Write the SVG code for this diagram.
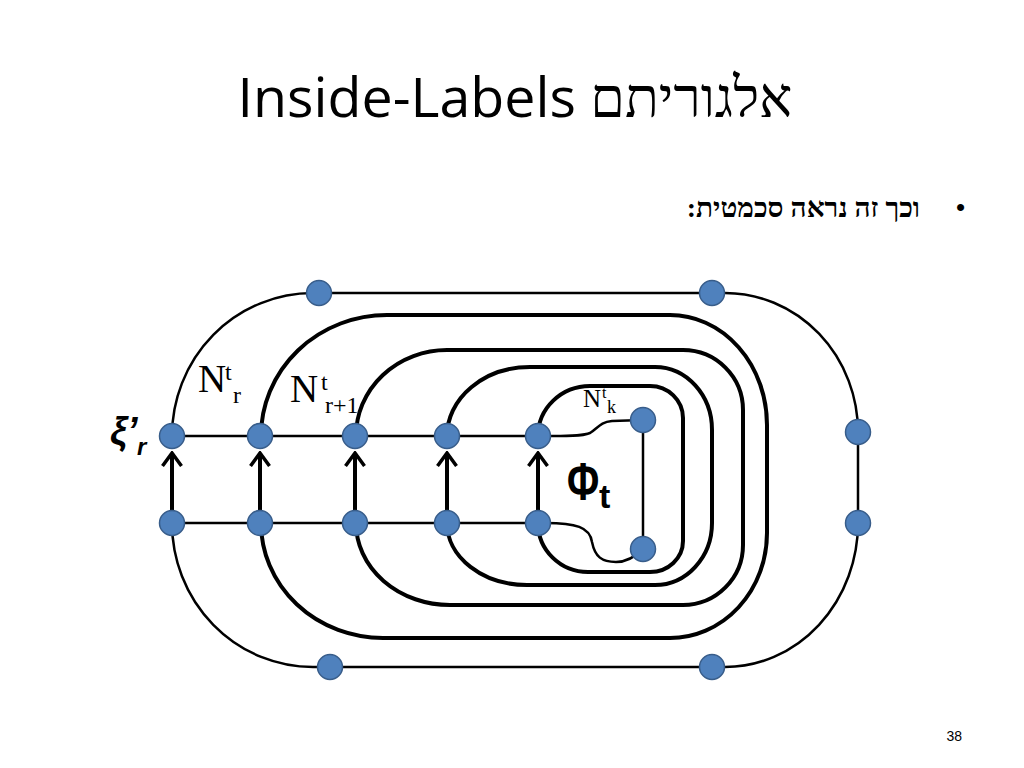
<svg xmlns="http://www.w3.org/2000/svg" width="1024" height="768" viewBox="0 0 1024 768">
<style>
.thin{fill:none;stroke:#000;stroke-width:2.5}
.thick{fill:none;stroke:#000;stroke-width:4}
.arrow{fill:none;stroke:#000;stroke-width:4;marker-end:url(#chev)}
.node{fill:#4F81BD;stroke:#385D8A;stroke-width:1.5}
.tnr{font-family:"Liberation Serif","Times New Roman",serif;fill:#000}
.sans{font-family:"Liberation Sans",Arial,sans-serif;fill:#000}
</style>
<defs>
<marker id="chev" viewBox="-14 -11 16 22" refX="0" refY="0" markerWidth="16" markerHeight="22" markerUnits="userSpaceOnUse" orient="auto">
<path d="M -13,-9.5 L 0,0 L -13,9.5" fill="none" stroke="#000" stroke-width="3.5" stroke-linejoin="miter"/>
</marker>
</defs>
<rect width="1024" height="768" fill="#fff"/>
<g id="title">
<text x="515" y="117" text-anchor="middle" font-size="55.5" fill="#000"><tspan font-family="'Open Sans','Noto Sans','Liberation Sans',sans-serif">Inside-Labels </tspan><tspan font-family="'Liberation Serif','DejaVu Sans',serif">אלגוריתם</tspan></text>
</g>
<g id="bullet">
<text x="965" y="216" text-anchor="end" class="sans" font-size="26">•</text>
<text x="920" y="217" text-anchor="end" class="tnr" font-size="28" font-weight="bold">וכך זה נראה סכמטית:&#x200F;</text>
</g>
<g id="connectors">
<path id="ring-outer" class="thin" d="M172,436 A141,143 0 0 1 313,293 L725,293 A133,139 0 0 1 858,432 L858,523 A133,144 0 0 1 725,667 L313,667 A141,144 0 0 1 172,523"/>
<path id="ring-r1" class="thick" d="M261,436 A126,121 0 0 1 387,315 L670,315 A97,110 0 0 1 767,425 L767,533 A97,105 0 0 1 670,638 L383,638 A122,115 0 0 1 261,523"/>
<path id="ring-3" class="thick" d="M356,436 A91,86 0 0 1 447,350 L683,350 A60,60 0 0 1 743,410 L743,545 A60,60 0 0 1 683,605 L450,605 A94,82 0 0 1 356,523"/>
<path id="ring-4" class="thick" d="M447,436 A83,69 0 0 1 530,367 L655,367 A57,63 0 0 1 712,430 L712,523 A57,62 0 0 1 655,585 L527,585 A80,62 0 0 1 447,523"/>
<path id="ring-k" class="thick" stroke-width="3.5" d="M538,436 A52,50 0 0 1 590,386 L650,386 A33,32 0 0 1 683,418 L683,541 A33,31 0 0 1 650,572 L588,572 A50,49 0 0 1 538,523"/>
<path class="thin" d="M172,436 L538,436"/>
<path class="thin" d="M172,523 L538,523"/>
<path class="thin" d="M538,436 C560,436 580,437 590,433 C598,428 600,422 612,421 L643,420"/>
<path class="thin" d="M538,523 C578,522 590,528 592,542 C595,557 602,562 616,562 C628,562 636,556 643,549"/>
<path class="thin" stroke-width="2" d="M643,420 L643,549"/>
<path class="arrow" d="M172,523 L172,453"/>
<path class="arrow" d="M260,523 L260,453"/>
<path class="arrow" d="M355,523 L355,453"/>
<path class="arrow" d="M447,523 L447,453"/>
<path class="arrow" d="M538,523 L538,453"/>
</g>
<g id="n-top1"><circle class="node" cx="319" cy="293" r="12.5"/></g>
<g id="n-top2"><circle class="node" cx="712" cy="293" r="12.5"/></g>
<g id="n-a1"><circle class="node" cx="172" cy="436" r="12.5"/></g>
<g id="n-a2"><circle class="node" cx="260" cy="436" r="12.5"/></g>
<g id="n-a3"><circle class="node" cx="355" cy="436" r="12.5"/></g>
<g id="n-a4"><circle class="node" cx="447" cy="436" r="12.5"/></g>
<g id="n-a5"><circle class="node" cx="538" cy="436" r="12.5"/></g>
<g id="n-b1"><circle class="node" cx="172" cy="523" r="12.5"/></g>
<g id="n-b2"><circle class="node" cx="260" cy="523" r="12.5"/></g>
<g id="n-b3"><circle class="node" cx="355" cy="523" r="12.5"/></g>
<g id="n-b4"><circle class="node" cx="447" cy="523" r="12.5"/></g>
<g id="n-b5"><circle class="node" cx="538" cy="523" r="12.5"/></g>
<g id="n-k1"><circle class="node" cx="643" cy="420" r="12.5"/></g>
<g id="n-k2"><circle class="node" cx="643" cy="549" r="12.5"/></g>
<g id="n-r1"><circle class="node" cx="858" cy="432" r="12.5"/></g>
<g id="n-r2"><circle class="node" cx="858" cy="523" r="12.5"/></g>
<g id="n-bot1"><circle class="node" cx="330" cy="667" r="12.5"/></g>
<g id="n-bot2"><circle class="node" cx="712" cy="667" r="12.5"/></g>
<g id="labels">
<text class="tnr" x="198" y="392" font-size="39">N</text>
<text class="tnr" x="225" y="380" font-size="24">t</text>
<text class="tnr" x="233" y="403" font-size="24">r</text>
<text class="tnr" x="290" y="402" font-size="39">N</text>
<text class="tnr" x="321" y="390" font-size="24">t</text>
<text class="tnr" x="325" y="413" font-size="24">r+1</text>
<text class="tnr" x="583" y="407" font-size="25">N</text>
<text class="tnr" x="602" y="398" font-size="16">t</text>
<text class="tnr" x="607" y="413" font-size="18">k</text>
<text class="sans" x="110" y="444" font-size="38" font-weight="bold" font-style="italic">ξ’</text>
<text class="sans" x="137" y="455" font-size="24" font-weight="bold" font-style="italic">r</text>
<text class="sans" font-size="53" font-weight="bold" transform="translate(567,500) scale(0.74,1)">Φ</text>
<text class="sans" x="599" y="508" font-size="34" font-weight="bold">t</text>
</g>
<g id="page">
<text x="962" y="741" text-anchor="end" class="sans" font-size="14" fill="#888">38</text>
</g>
</svg>
